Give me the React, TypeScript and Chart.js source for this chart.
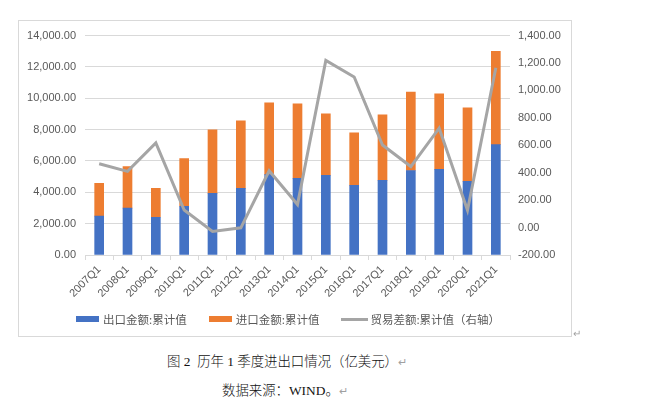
import React, { useEffect, useRef } from "react";
import { Chart, registerables } from "chart.js";

Chart.register(...registerables);

// 季度标签
const quarters = [
  "2007Q1", "2008Q1", "2009Q1", "2010Q1", "2011Q1", "2012Q1", "2013Q1", "2014Q1",
  "2015Q1", "2016Q1", "2017Q1", "2018Q1", "2019Q1", "2020Q1", "2021Q1",
];

// 出口金额:累计值（亿美元）
const exportValues = [2480, 2990, 2410, 3110, 3930, 4250, 5130, 4890, 5080, 4440, 4760, 5390, 5460, 4700, 7040];

// 进口金额:累计值（亿美元）
const importValues = [2090, 2660, 1840, 3040, 4060, 4310, 4580, 4750, 3930, 3360, 4180, 5010, 4820, 4690, 5960];

// 贸易差额:累计值（右轴，亿美元）
const balanceValues = [465, 410, 617, 128, -28, -2, 414, 168, 1219, 1098, 602, 445, 725, 126, 1166];

const leftTicks = { min: 0, max: 14000, step: 2000 };
const rightTicks = { min: -200, max: 1400, step: 200 };

const legendItems = [
  { label: "出口金额:累计值", color: "#4472C4", kind: "bar" },
  { label: "进口金额:累计值", color: "#ED7D31", kind: "bar" },
  { label: "贸易差额:累计值（右轴）", color: "#A5A5A5", kind: "line" },
];

const fmt = new Intl.NumberFormat("en-US", { minimumFractionDigits: 2, maximumFractionDigits: 2 });

const tickFont = { family: "'Liberation Sans', Arial, sans-serif", size: 11 };
const tickColor = "#595959";
const gridColor = "#D9D9D9";

export default function App() {
  const canvasRef = useRef<HTMLCanvasElement | null>(null);

  useEffect(() => {
    const canvas = canvasRef.current;
    if (!canvas) return;
    const chart = new Chart(canvas, {
      type: "bar",
      data: {
        labels: quarters,
        datasets: [
          {
            type: "line",
            label: "贸易差额:累计值（右轴）",
            data: balanceValues,
            yAxisID: "yRight",
            borderColor: "#A5A5A5",
            backgroundColor: "#A5A5A5",
            borderWidth: 3,
            pointRadius: 0,
            tension: 0,
            order: 0,
          },
          {
            type: "bar",
            label: "出口金额:累计值",
            data: exportValues,
            yAxisID: "y",
            backgroundColor: "#4472C4",
            stack: "trade",
            barThickness: 9,
            order: 1,
          },
          {
            type: "bar",
            label: "进口金额:累计值",
            data: importValues,
            yAxisID: "y",
            backgroundColor: "#ED7D31",
            stack: "trade",
            barThickness: 9,
            order: 1,
          },
        ],
      },
      options: {
        responsive: false,
        animation: false,
        layout: { padding: { top: 14, left: 0, right: 0, bottom: 0 } },
        plugins: {
          legend: { display: false },
          tooltip: { enabled: false },
        },
        scales: {
          x: {
            stacked: true,
            grid: {
              display: true,
              drawOnChartArea: false,
              drawTicks: true,
              tickLength: 5,
              color: gridColor,
              offset: true,
            },
            border: { display: true, color: gridColor },
            ticks: {
              color: tickColor,
              font: tickFont,
              minRotation: 45,
              maxRotation: 45,
              padding: 3,
              autoSkip: false,
            },
            afterFit: (scale: any) => {
              scale.height = 82;
            },
          },
          y: {
            position: "left",
            stacked: true,
            min: leftTicks.min,
            max: leftTicks.max,
            ticks: {
              stepSize: leftTicks.step,
              color: tickColor,
              font: tickFont,
              padding: 9,
              callback: (v: any) => fmt.format(Number(v)),
            },
            grid: { color: gridColor, drawTicks: false },
            border: { display: false },
            afterFit: (scale: any) => {
              scale.width = 67;
            },
          },
          yRight: {
            position: "right",
            min: rightTicks.min,
            max: rightTicks.max,
            ticks: {
              stepSize: rightTicks.step,
              color: tickColor,
              font: tickFont,
              padding: 8,
              callback: (v: any) => fmt.format(Number(v)),
            },
            grid: { drawOnChartArea: false, drawTicks: false },
            border: { display: false },
            afterFit: (scale: any) => {
              scale.width = 62;
            },
          },
        },
      },
    } as any);
    return () => chart.destroy();
  }, []);

  const cjk = "'Noto Sans CJK SC', 'Noto Sans', sans-serif";
  const capFont = "'Times New Roman', 'Liberation Serif', 'Noto Sans CJK SC', serif";

  return (
    <div
      style={{
        position: "fixed",
        left: 0,
        top: 0,
        width: 647,
        height: 405,
        background: "#ffffff",
        overflow: "hidden",
      }}
    >
      <canvas
        ref={canvasRef}
        width={554}
        height={317}
        style={{ position: "absolute", left: 18, top: 20, width: 554, height: 317 }}
      />
      <div
        style={{
          position: "absolute",
          left: 18,
          top: 20,
          width: 554,
          height: 317,
          border: "1px solid #D9D9D9",
          boxSizing: "border-box",
          pointerEvents: "none",
        }}
      />
      {/* 图例 */}
      <div
        style={{
          position: "absolute",
          left: 76,
          top: 310,
          height: 18,
          display: "flex",
          alignItems: "center",
          fontFamily: cjk,
          fontSize: 11.5,
          color: "#595959",
          whiteSpace: "nowrap",
        }}
      >
        {legendItems.map((it) => (
          <div
            key={it.label}
            style={{ display: "flex", alignItems: "center", marginRight: 22 }}
          >
            <span
              style={{
                display: "inline-block",
                width: it.kind === "bar" ? 23 : 27,
                height: it.kind === "bar" ? 6 : 3,
                background: it.color,
                marginRight: it.kind === "bar" ? 4 : 2,
              }}
            />
            <span>{it.label}</span>
          </div>
        ))}
      </div>
      <div
        style={{
          position: "absolute",
          left: 573,
          top: 325,
          fontSize: 10,
          color: "#A0A0A0",
          fontFamily: cjk,
        }}
      >
        ↵
      </div>
      {/* 图题 */}
      <div
        style={{
          position: "absolute",
          left: 167,
          top: 352,
          fontFamily: capFont,
          fontSize: 13.4,
          fontWeight: 300,
          color: "#111",
          whiteSpace: "pre",
          lineHeight: "20px",
        }}
      >
        图 2  历年 1 季度进出口情况（亿美元）
        <span style={{ color: "#A0A0A0", fontSize: 11 }}>↵</span>
      </div>
      <div
        style={{
          position: "absolute",
          left: 222,
          top: 381,
          fontFamily: capFont,
          fontSize: 13.4,
          fontWeight: 300,
          color: "#111",
          whiteSpace: "pre",
          lineHeight: "20px",
        }}
      >
        数据来源：WIND。
        <span style={{ color: "#A0A0A0", fontSize: 11 }}>↵</span>
      </div>
    </div>
  );
}
